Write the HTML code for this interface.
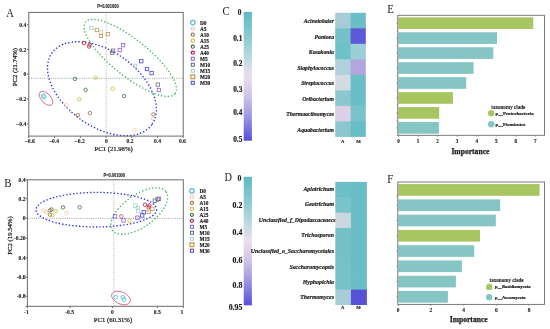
<!DOCTYPE html><html><head><meta charset="utf-8"><style>html,body{margin:0;padding:0;background:#fff;overflow:hidden}svg{display:block;will-change:transform}</style></head><body>
<svg width="550" height="329" viewBox="0 0 550 329">
<rect width="550" height="329" fill="#fff"/>
<text transform="translate(6.20 17.40) scale(0.9 1)" font-family='"Liberation Serif", serif' font-size="11.8" font-weight="normal" font-style="normal" text-anchor="start" fill="#1a1a1a" >A</text>
<text transform="translate(107.90 7.86) scale(0.86 1)" font-family='"Liberation Sans", sans-serif' font-size="4.6" font-weight="bold" font-style="normal" text-anchor="middle" fill="#1a1a1a" stroke="#1a1a1a" stroke-width="0.12" >P=0.001000</text>
<line x1="28.80" y1="78.30" x2="183.20" y2="78.30" stroke="#8a8a8a" stroke-width="0.8" stroke-dasharray="1 1.2"/>
<line x1="106.20" y1="12.40" x2="106.20" y2="136.10" stroke="#a0a0a0" stroke-width="0.8" stroke-dasharray="1 1.2"/>
<ellipse cx="101.96" cy="88.71" rx="61.47" ry="37.37" transform="rotate(35.76 101.96 88.71)" fill="none" stroke="#2b2bea" stroke-width="1.35" stroke-dasharray="1.35 2.05"/>
<ellipse cx="130.29" cy="57.9" rx="57.28" ry="18.25" transform="rotate(38.65 130.29 57.9)" fill="none" stroke="#3cb95a" stroke-width="1.35" stroke-dasharray="1.35 2.05"/>
<ellipse cx="46" cy="98.3" rx="8.6" ry="4.7" transform="rotate(47 46 98.3)" fill="none" stroke="#d3648a" stroke-width="0.85"/>
<rect x="89.70" y="26.30" width="3.40" height="3.40" fill="none" stroke="#a3cfd0" stroke-width="0.78"/>
<rect x="95.20" y="28.30" width="3.40" height="3.40" fill="none" stroke="#c79445" stroke-width="0.78"/>
<rect x="99.30" y="30.80" width="3.40" height="3.40" fill="none" stroke="#a3cfd0" stroke-width="0.78"/>
<rect x="99.30" y="34.20" width="3.40" height="3.40" fill="none" stroke="#c79445" stroke-width="0.78"/>
<rect x="106.10" y="32.50" width="3.40" height="3.40" fill="none" stroke="#c79445" stroke-width="0.78"/>
<circle cx="84.00" cy="43.00" r="1.75" fill="none" stroke="#b3153f" stroke-width="0.80"/>
<circle cx="89.70" cy="44.60" r="1.75" fill="none" stroke="#b3153f" stroke-width="0.80"/>
<circle cx="89.10" cy="46.50" r="1.75" fill="none" stroke="#b3153f" stroke-width="0.80"/>
<rect x="121.40" y="43.50" width="3.40" height="3.40" fill="none" stroke="#8a58e8" stroke-width="0.78"/>
<rect x="118.10" y="48.30" width="3.40" height="3.40" fill="none" stroke="#8a58e8" stroke-width="0.78"/>
<rect x="111.40" y="49.00" width="3.40" height="3.40" fill="none" stroke="#666688" stroke-width="0.78"/>
<rect x="110.50" y="51.10" width="3.40" height="3.40" fill="none" stroke="#666688" stroke-width="0.78"/>
<rect x="139.60" y="59.50" width="3.40" height="3.40" fill="none" stroke="#4646e2" stroke-width="0.78"/>
<rect x="133.30" y="64.20" width="3.40" height="3.40" fill="none" stroke="#a3cfd0" stroke-width="0.78"/>
<rect x="145.30" y="67.30" width="3.40" height="3.40" fill="none" stroke="#4646e2" stroke-width="0.78"/>
<rect x="149.90" y="71.40" width="3.40" height="3.40" fill="none" stroke="#4646e2" stroke-width="0.78"/>
<rect x="156.10" y="82.90" width="3.40" height="3.40" fill="none" stroke="#666688" stroke-width="0.78"/>
<rect x="157.20" y="88.30" width="3.40" height="3.40" fill="none" stroke="#8a58e8" stroke-width="0.78"/>
<circle cx="153.40" cy="114.40" r="1.75" fill="none" stroke="#9a6a42" stroke-width="0.80"/>
<circle cx="152.90" cy="118.50" r="1.75" fill="none" stroke="#f7c6a3" stroke-width="0.80"/>
<circle cx="134.60" cy="130.10" r="1.75" fill="none" stroke="#f7c6a3" stroke-width="0.80"/>
<circle cx="74.90" cy="78.90" r="1.75" fill="none" stroke="#3d6e3d" stroke-width="0.80"/>
<circle cx="95.60" cy="77.70" r="1.75" fill="none" stroke="#c2c232" stroke-width="0.80"/>
<circle cx="85.60" cy="89.80" r="1.75" fill="none" stroke="#3d6e3d" stroke-width="0.80"/>
<circle cx="79.20" cy="99.20" r="1.75" fill="none" stroke="#c2c232" stroke-width="0.80"/>
<circle cx="66.40" cy="105.00" r="1.75" fill="none" stroke="#f7c6a3" stroke-width="0.80"/>
<circle cx="77.90" cy="115.20" r="1.75" fill="none" stroke="#9a6a42" stroke-width="0.80"/>
<circle cx="89.90" cy="113.10" r="1.75" fill="none" stroke="#9a6a42" stroke-width="0.80"/>
<circle cx="43.40" cy="95.80" r="2.00" fill="none" stroke="#4fbfd9" stroke-width="0.80"/>
<circle cx="44.00" cy="96.90" r="2.00" fill="none" stroke="#4fbfd9" stroke-width="0.80"/>
<circle cx="112.70" cy="88.70" r="1.75" fill="none" stroke="#c2c232" stroke-width="0.80"/>
<circle cx="124.20" cy="96.10" r="1.75" fill="none" stroke="#3d6e3d" stroke-width="0.80"/>
<rect x="28.8" y="12.4" width="154.39999999999998" height="123.69999999999999" fill="none" stroke="#6b6b6b" stroke-width="1"/>
<line x1="27.00" y1="24.70" x2="28.80" y2="24.70" stroke="#6b6b6b" stroke-width="1" />
<text x="26.20" y="26.85" font-family='"Liberation Serif", serif' font-size="5.6" font-weight="bold" font-style="normal" text-anchor="end" fill="#1a1a1a" stroke="#1a1a1a" stroke-width="0.12" >0.4</text>
<line x1="27.00" y1="49.50" x2="28.80" y2="49.50" stroke="#6b6b6b" stroke-width="1" />
<text x="26.20" y="51.65" font-family='"Liberation Serif", serif' font-size="5.6" font-weight="bold" font-style="normal" text-anchor="end" fill="#1a1a1a" stroke="#1a1a1a" stroke-width="0.12" >0.2</text>
<line x1="27.00" y1="74.20" x2="28.80" y2="74.20" stroke="#6b6b6b" stroke-width="1" />
<text x="26.20" y="76.35" font-family='"Liberation Serif", serif' font-size="5.6" font-weight="bold" font-style="normal" text-anchor="end" fill="#1a1a1a" stroke="#1a1a1a" stroke-width="0.12" >0</text>
<line x1="27.00" y1="99.00" x2="28.80" y2="99.00" stroke="#6b6b6b" stroke-width="1" />
<text x="26.20" y="101.15" font-family='"Liberation Serif", serif' font-size="5.6" font-weight="bold" font-style="normal" text-anchor="end" fill="#1a1a1a" stroke="#1a1a1a" stroke-width="0.12" >−0.2</text>
<line x1="27.00" y1="123.80" x2="28.80" y2="123.80" stroke="#6b6b6b" stroke-width="1" />
<text x="26.20" y="125.95" font-family='"Liberation Serif", serif' font-size="5.6" font-weight="bold" font-style="normal" text-anchor="end" fill="#1a1a1a" stroke="#1a1a1a" stroke-width="0.12" >−0.4</text>
<line x1="28.80" y1="136.10" x2="28.80" y2="137.90" stroke="#6b6b6b" stroke-width="1" />
<text x="29.60" y="142.95" font-family='"Liberation Serif", serif' font-size="5.6" font-weight="bold" font-style="normal" text-anchor="middle" fill="#1a1a1a" stroke="#1a1a1a" stroke-width="0.1" >−0.6</text>
<line x1="54.50" y1="136.10" x2="54.50" y2="137.90" stroke="#6b6b6b" stroke-width="1" />
<text x="54.00" y="142.95" font-family='"Liberation Serif", serif' font-size="5.6" font-weight="bold" font-style="normal" text-anchor="middle" fill="#1a1a1a" stroke="#1a1a1a" stroke-width="0.1" >−0.4</text>
<line x1="80.30" y1="136.10" x2="80.30" y2="137.90" stroke="#6b6b6b" stroke-width="1" />
<text x="79.60" y="142.95" font-family='"Liberation Serif", serif' font-size="5.6" font-weight="bold" font-style="normal" text-anchor="middle" fill="#1a1a1a" stroke="#1a1a1a" stroke-width="0.1" >−0.2</text>
<line x1="106.00" y1="136.10" x2="106.00" y2="137.90" stroke="#6b6b6b" stroke-width="1" />
<text x="106.30" y="142.95" font-family='"Liberation Serif", serif' font-size="5.6" font-weight="bold" font-style="normal" text-anchor="middle" fill="#1a1a1a" stroke="#1a1a1a" stroke-width="0.1" >0</text>
<line x1="131.70" y1="136.10" x2="131.70" y2="137.90" stroke="#6b6b6b" stroke-width="1" />
<text x="130.00" y="142.95" font-family='"Liberation Serif", serif' font-size="5.6" font-weight="bold" font-style="normal" text-anchor="middle" fill="#1a1a1a" stroke="#1a1a1a" stroke-width="0.1" >0.2</text>
<line x1="157.50" y1="136.10" x2="157.50" y2="137.90" stroke="#6b6b6b" stroke-width="1" />
<text x="157.50" y="142.95" font-family='"Liberation Serif", serif' font-size="5.6" font-weight="bold" font-style="normal" text-anchor="middle" fill="#1a1a1a" stroke="#1a1a1a" stroke-width="0.1" >0.4</text>
<line x1="183.20" y1="136.10" x2="183.20" y2="137.90" stroke="#6b6b6b" stroke-width="1" />
<text x="182.40" y="142.95" font-family='"Liberation Serif", serif' font-size="5.6" font-weight="bold" font-style="normal" text-anchor="middle" fill="#1a1a1a" stroke="#1a1a1a" stroke-width="0.1" >0.6</text>
<text x="113.60" y="150.81" font-family='"Liberation Serif", serif' font-size="6.7" font-weight="normal" font-style="normal" text-anchor="middle" fill="#1a1a1a" stroke="#1a1a1a" stroke-width="0.22" >PC1 (21.98%)</text>
<g transform="translate(15.2 67.1) rotate(-90)">
<text x="0.00" y="2.21" font-family='"Liberation Serif", serif' font-size="6.7" font-weight="normal" font-style="normal" text-anchor="middle" fill="#1a1a1a" stroke="#1a1a1a" stroke-width="0.22" >PC2 (21.74%)</text>
</g>
<circle cx="192.80" cy="22.60" r="2.20" fill="none" stroke="#4fbfd9" stroke-width="1.20"/>
<text x="199.90" y="25.05" font-family='"Liberation Serif", serif' font-size="5.3" font-weight="bold" font-style="normal" text-anchor="start" fill="#1a1a1a" stroke="#1a1a1a" stroke-width="0.15" >D0</text>
<circle cx="192.80" cy="28.62" r="1.60" fill="none" stroke="#f7c6a3" stroke-width="1.10"/>
<text x="199.90" y="31.07" font-family='"Liberation Serif", serif' font-size="5.3" font-weight="bold" font-style="normal" text-anchor="start" fill="#1a1a1a" stroke="#1a1a1a" stroke-width="0.15" >A5</text>
<circle cx="192.80" cy="34.64" r="1.60" fill="none" stroke="#9a6a42" stroke-width="1.10"/>
<text x="199.90" y="37.09" font-family='"Liberation Serif", serif' font-size="5.3" font-weight="bold" font-style="normal" text-anchor="start" fill="#1a1a1a" stroke="#1a1a1a" stroke-width="0.15" >A10</text>
<circle cx="192.80" cy="40.66" r="1.60" fill="none" stroke="#c2c232" stroke-width="1.10"/>
<text x="199.90" y="43.11" font-family='"Liberation Serif", serif' font-size="5.3" font-weight="bold" font-style="normal" text-anchor="start" fill="#1a1a1a" stroke="#1a1a1a" stroke-width="0.15" >A15</text>
<circle cx="192.80" cy="46.68" r="1.60" fill="none" stroke="#3d6e3d" stroke-width="1.10"/>
<text x="199.90" y="49.13" font-family='"Liberation Serif", serif' font-size="5.3" font-weight="bold" font-style="normal" text-anchor="start" fill="#1a1a1a" stroke="#1a1a1a" stroke-width="0.15" >A25</text>
<circle cx="192.80" cy="52.70" r="1.60" fill="none" stroke="#b3153f" stroke-width="1.10"/>
<text x="199.90" y="55.15" font-family='"Liberation Serif", serif' font-size="5.3" font-weight="bold" font-style="normal" text-anchor="start" fill="#1a1a1a" stroke="#1a1a1a" stroke-width="0.15" >A40</text>
<rect x="191.30" y="57.22" width="3.00" height="3.00" fill="none" stroke="#8a58e8" stroke-width="1.00"/>
<text x="199.90" y="61.17" font-family='"Liberation Serif", serif' font-size="5.3" font-weight="bold" font-style="normal" text-anchor="start" fill="#1a1a1a" stroke="#1a1a1a" stroke-width="0.15" >M5</text>
<rect x="191.30" y="63.24" width="3.00" height="3.00" fill="none" stroke="#666688" stroke-width="1.00"/>
<text x="199.90" y="67.19" font-family='"Liberation Serif", serif' font-size="5.3" font-weight="bold" font-style="normal" text-anchor="start" fill="#1a1a1a" stroke="#1a1a1a" stroke-width="0.15" >M10</text>
<rect x="191.30" y="69.26" width="3.00" height="3.00" fill="none" stroke="#a3cfd0" stroke-width="1.00"/>
<text x="199.90" y="73.21" font-family='"Liberation Serif", serif' font-size="5.3" font-weight="bold" font-style="normal" text-anchor="start" fill="#1a1a1a" stroke="#1a1a1a" stroke-width="0.15" >M15</text>
<rect x="190.90" y="74.88" width="3.80" height="3.80" fill="none" stroke="#c79445" stroke-width="1.20"/>
<text x="199.90" y="79.23" font-family='"Liberation Serif", serif' font-size="5.3" font-weight="bold" font-style="normal" text-anchor="start" fill="#1a1a1a" stroke="#1a1a1a" stroke-width="0.15" >M20</text>
<rect x="191.30" y="81.30" width="3.00" height="3.00" fill="none" stroke="#4646e2" stroke-width="1.00"/>
<text x="199.90" y="85.25" font-family='"Liberation Serif", serif' font-size="5.3" font-weight="bold" font-style="normal" text-anchor="start" fill="#1a1a1a" stroke="#1a1a1a" stroke-width="0.15" >M30</text>
<text transform="translate(4.30 186.90) scale(0.92 1)" font-family='"Liberation Serif", serif' font-size="11.8" font-weight="normal" font-style="normal" text-anchor="start" fill="#1a1a1a" >B</text>
<text transform="translate(114.30 176.76) scale(0.86 1)" font-family='"Liberation Sans", sans-serif' font-size="4.6" font-weight="bold" font-style="normal" text-anchor="middle" fill="#1a1a1a" stroke="#1a1a1a" stroke-width="0.12" >P=0.001000</text>
<line x1="27.40" y1="218.40" x2="183.30" y2="218.40" stroke="#8a8a8a" stroke-width="0.8" stroke-dasharray="1 1.2"/>
<line x1="113.80" y1="179.80" x2="113.80" y2="306.30" stroke="#a0a0a0" stroke-width="0.8" stroke-dasharray="1 1.2"/>
<ellipse cx="96.33" cy="209.69" rx="60.26" ry="17.28" transform="rotate(-0.17 96.33 209.69)" fill="none" stroke="#2b2bea" stroke-width="1.35" stroke-dasharray="1.35 2.05"/>
<ellipse cx="139.28" cy="211.02" rx="33.01" ry="15.99" transform="rotate(-35.68 139.28 211.02)" fill="none" stroke="#3cb95a" stroke-width="1.35" stroke-dasharray="1.35 2.05"/>
<ellipse cx="121" cy="298" rx="10" ry="6" transform="rotate(24 121 298)" fill="none" stroke="#d3648a" stroke-width="0.85"/>
<circle cx="43.20" cy="210.40" r="1.75" fill="none" stroke="#f7c6a3" stroke-width="0.80"/>
<circle cx="46.00" cy="211.80" r="1.75" fill="none" stroke="#f7c6a3" stroke-width="0.80"/>
<circle cx="49.90" cy="210.40" r="1.75" fill="none" stroke="#9a6a42" stroke-width="0.80"/>
<circle cx="49.90" cy="214.60" r="1.75" fill="none" stroke="#9a6a42" stroke-width="0.80"/>
<circle cx="51.50" cy="209.50" r="1.75" fill="none" stroke="#3d6e3d" stroke-width="0.80"/>
<circle cx="55.70" cy="211.00" r="1.75" fill="none" stroke="#c2c232" stroke-width="0.80"/>
<circle cx="52.30" cy="215.20" r="1.75" fill="none" stroke="#c2c232" stroke-width="0.80"/>
<circle cx="63.00" cy="207.30" r="1.75" fill="none" stroke="#3d6e3d" stroke-width="0.80"/>
<circle cx="79.60" cy="207.30" r="1.75" fill="none" stroke="#3d6e3d" stroke-width="0.80"/>
<circle cx="66.60" cy="212.80" r="1.75" fill="none" stroke="#f7c6a3" stroke-width="0.80"/>
<rect x="133.60" y="204.00" width="3.40" height="3.40" fill="none" stroke="#a3cfd0" stroke-width="0.78"/>
<rect x="136.10" y="206.30" width="3.40" height="3.40" fill="none" stroke="#a3cfd0" stroke-width="0.78"/>
<rect x="136.40" y="209.10" width="3.40" height="3.40" fill="none" stroke="#a3cfd0" stroke-width="0.78"/>
<circle cx="145.00" cy="204.70" r="1.75" fill="none" stroke="#b3153f" stroke-width="0.80"/>
<circle cx="149.30" cy="205.50" r="1.75" fill="none" stroke="#b3153f" stroke-width="0.80"/>
<circle cx="148.70" cy="207.30" r="1.75" fill="none" stroke="#b3153f" stroke-width="0.80"/>
<rect x="150.70" y="207.10" width="3.40" height="3.40" fill="none" stroke="#c79445" stroke-width="0.78"/>
<rect x="147.00" y="210.10" width="3.40" height="3.40" fill="none" stroke="#c79445" stroke-width="0.78"/>
<rect x="153.10" y="199.00" width="3.40" height="3.40" fill="none" stroke="#666688" stroke-width="0.78"/>
<rect x="155.90" y="197.70" width="3.40" height="3.40" fill="none" stroke="#666688" stroke-width="0.78"/>
<rect x="157.30" y="197.10" width="3.40" height="3.40" fill="none" stroke="#666688" stroke-width="0.78"/>
<rect x="142.10" y="210.50" width="3.40" height="3.40" fill="none" stroke="#4646e2" stroke-width="0.78"/>
<rect x="140.50" y="213.70" width="3.40" height="3.40" fill="none" stroke="#4646e2" stroke-width="0.78"/>
<rect x="135.80" y="216.00" width="3.40" height="3.40" fill="none" stroke="#8a58e8" stroke-width="0.78"/>
<rect x="113.30" y="214.70" width="3.40" height="3.40" fill="none" stroke="#8a58e8" stroke-width="0.78"/>
<rect x="121.80" y="218.70" width="3.40" height="3.40" fill="none" stroke="#8a58e8" stroke-width="0.78"/>
<circle cx="121.30" cy="216.30" r="1.75" fill="none" stroke="#9a6a42" stroke-width="0.80"/>
<circle cx="129.50" cy="220.80" r="1.75" fill="none" stroke="#c2c232" stroke-width="0.80"/>
<circle cx="115.90" cy="297.10" r="2.00" fill="none" stroke="#4fbfd9" stroke-width="0.80"/>
<circle cx="122.80" cy="297.30" r="2.00" fill="none" stroke="#4fbfd9" stroke-width="0.80"/>
<circle cx="124.10" cy="299.60" r="2.00" fill="none" stroke="#4fbfd9" stroke-width="0.80"/>
<rect x="27.4" y="179.8" width="155.9" height="126.5" fill="none" stroke="#6b6b6b" stroke-width="1"/>
<line x1="25.60" y1="179.80" x2="27.40" y2="179.80" stroke="#6b6b6b" stroke-width="1" />
<text x="25.60" y="181.95" font-family='"Liberation Serif", serif' font-size="5.6" font-weight="bold" font-style="normal" text-anchor="end" fill="#1a1a1a" stroke="#1a1a1a" stroke-width="0.12" >0.4</text>
<line x1="25.60" y1="198.80" x2="27.40" y2="198.80" stroke="#6b6b6b" stroke-width="1" />
<text x="25.60" y="200.95" font-family='"Liberation Serif", serif' font-size="5.6" font-weight="bold" font-style="normal" text-anchor="end" fill="#1a1a1a" stroke="#1a1a1a" stroke-width="0.12" >0.2</text>
<line x1="25.60" y1="218.10" x2="27.40" y2="218.10" stroke="#6b6b6b" stroke-width="1" />
<text x="25.60" y="220.25" font-family='"Liberation Serif", serif' font-size="5.6" font-weight="bold" font-style="normal" text-anchor="end" fill="#1a1a1a" stroke="#1a1a1a" stroke-width="0.12" >0</text>
<line x1="25.60" y1="238.30" x2="27.40" y2="238.30" stroke="#6b6b6b" stroke-width="1" />
<text x="25.60" y="240.45" font-family='"Liberation Serif", serif' font-size="5.6" font-weight="bold" font-style="normal" text-anchor="end" fill="#1a1a1a" stroke="#1a1a1a" stroke-width="0.12" >-0.20</text>
<line x1="25.60" y1="257.90" x2="27.40" y2="257.90" stroke="#6b6b6b" stroke-width="1" />
<text x="25.60" y="260.05" font-family='"Liberation Serif", serif' font-size="5.6" font-weight="bold" font-style="normal" text-anchor="end" fill="#1a1a1a" stroke="#1a1a1a" stroke-width="0.12" >0.4</text>
<line x1="25.60" y1="277.10" x2="27.40" y2="277.10" stroke="#6b6b6b" stroke-width="1" />
<text x="25.60" y="279.25" font-family='"Liberation Serif", serif' font-size="5.6" font-weight="bold" font-style="normal" text-anchor="end" fill="#1a1a1a" stroke="#1a1a1a" stroke-width="0.12" >-0.6</text>
<line x1="25.60" y1="296.20" x2="27.40" y2="296.20" stroke="#6b6b6b" stroke-width="1" />
<text x="25.60" y="298.35" font-family='"Liberation Serif", serif' font-size="5.6" font-weight="bold" font-style="normal" text-anchor="end" fill="#1a1a1a" stroke="#1a1a1a" stroke-width="0.12" >-0.8</text>
<line x1="27.40" y1="306.30" x2="27.40" y2="308.10" stroke="#6b6b6b" stroke-width="1" />
<text x="26.40" y="313.55" font-family='"Liberation Serif", serif' font-size="5.6" font-weight="bold" font-style="normal" text-anchor="middle" fill="#1a1a1a" stroke="#1a1a1a" stroke-width="0.1" >-1</text>
<line x1="70.00" y1="306.30" x2="70.00" y2="308.10" stroke="#6b6b6b" stroke-width="1" />
<text x="69.60" y="313.55" font-family='"Liberation Serif", serif' font-size="5.6" font-weight="bold" font-style="normal" text-anchor="middle" fill="#1a1a1a" stroke="#1a1a1a" stroke-width="0.1" >-0.5</text>
<line x1="112.70" y1="306.30" x2="112.70" y2="308.10" stroke="#6b6b6b" stroke-width="1" />
<text x="112.40" y="313.55" font-family='"Liberation Serif", serif' font-size="5.6" font-weight="bold" font-style="normal" text-anchor="middle" fill="#1a1a1a" stroke="#1a1a1a" stroke-width="0.1" >0</text>
<line x1="157.30" y1="306.30" x2="157.30" y2="308.10" stroke="#6b6b6b" stroke-width="1" />
<text x="157.30" y="313.55" font-family='"Liberation Serif", serif' font-size="5.6" font-weight="bold" font-style="normal" text-anchor="middle" fill="#1a1a1a" stroke="#1a1a1a" stroke-width="0.1" >0.5</text>
<line x1="183.30" y1="306.30" x2="183.30" y2="308.10" stroke="#6b6b6b" stroke-width="1" />
<text x="181.80" y="313.55" font-family='"Liberation Serif", serif' font-size="5.6" font-weight="bold" font-style="normal" text-anchor="middle" fill="#1a1a1a" stroke="#1a1a1a" stroke-width="0.1" >1</text>
<line x1="25.40" y1="306.30" x2="27.40" y2="306.30" stroke="#6b6b6b" stroke-width="1" />
<text x="113.00" y="321.71" font-family='"Liberation Serif", serif' font-size="6.7" font-weight="normal" font-style="normal" text-anchor="middle" fill="#1a1a1a" stroke="#1a1a1a" stroke-width="0.22" >PC1 (60.31%)</text>
<g transform="translate(10.2 235.5) rotate(-90)">
<text x="0.00" y="2.21" font-family='"Liberation Serif", serif' font-size="6.7" font-weight="normal" font-style="normal" text-anchor="middle" fill="#1a1a1a" stroke="#1a1a1a" stroke-width="0.22" >PC2 (19.54%)</text>
</g>
<circle cx="191.90" cy="190.90" r="2.20" fill="none" stroke="#4fbfd9" stroke-width="1.20"/>
<text x="199.40" y="193.35" font-family='"Liberation Serif", serif' font-size="5.3" font-weight="bold" font-style="normal" text-anchor="start" fill="#1a1a1a" stroke="#1a1a1a" stroke-width="0.15" >D0</text>
<circle cx="191.90" cy="196.88" r="1.60" fill="none" stroke="#f7c6a3" stroke-width="1.10"/>
<text x="199.40" y="199.33" font-family='"Liberation Serif", serif' font-size="5.3" font-weight="bold" font-style="normal" text-anchor="start" fill="#1a1a1a" stroke="#1a1a1a" stroke-width="0.15" >A5</text>
<circle cx="191.90" cy="202.86" r="1.60" fill="none" stroke="#9a6a42" stroke-width="1.10"/>
<text x="199.40" y="205.31" font-family='"Liberation Serif", serif' font-size="5.3" font-weight="bold" font-style="normal" text-anchor="start" fill="#1a1a1a" stroke="#1a1a1a" stroke-width="0.15" >A10</text>
<circle cx="191.90" cy="208.84" r="1.60" fill="none" stroke="#c2c232" stroke-width="1.10"/>
<text x="199.40" y="211.29" font-family='"Liberation Serif", serif' font-size="5.3" font-weight="bold" font-style="normal" text-anchor="start" fill="#1a1a1a" stroke="#1a1a1a" stroke-width="0.15" >A15</text>
<circle cx="191.90" cy="214.82" r="1.60" fill="none" stroke="#3d6e3d" stroke-width="1.10"/>
<text x="199.40" y="217.27" font-family='"Liberation Serif", serif' font-size="5.3" font-weight="bold" font-style="normal" text-anchor="start" fill="#1a1a1a" stroke="#1a1a1a" stroke-width="0.15" >A25</text>
<circle cx="191.90" cy="220.80" r="1.60" fill="none" stroke="#b3153f" stroke-width="1.10"/>
<text x="199.40" y="223.25" font-family='"Liberation Serif", serif' font-size="5.3" font-weight="bold" font-style="normal" text-anchor="start" fill="#1a1a1a" stroke="#1a1a1a" stroke-width="0.15" >A40</text>
<rect x="190.40" y="225.28" width="3.00" height="3.00" fill="none" stroke="#8a58e8" stroke-width="1.00"/>
<text x="199.40" y="229.23" font-family='"Liberation Serif", serif' font-size="5.3" font-weight="bold" font-style="normal" text-anchor="start" fill="#1a1a1a" stroke="#1a1a1a" stroke-width="0.15" >M5</text>
<rect x="190.40" y="231.26" width="3.00" height="3.00" fill="none" stroke="#666688" stroke-width="1.00"/>
<text x="199.40" y="235.21" font-family='"Liberation Serif", serif' font-size="5.3" font-weight="bold" font-style="normal" text-anchor="start" fill="#1a1a1a" stroke="#1a1a1a" stroke-width="0.15" >M10</text>
<rect x="190.40" y="237.24" width="3.00" height="3.00" fill="none" stroke="#a3cfd0" stroke-width="1.00"/>
<text x="199.40" y="241.19" font-family='"Liberation Serif", serif' font-size="5.3" font-weight="bold" font-style="normal" text-anchor="start" fill="#1a1a1a" stroke="#1a1a1a" stroke-width="0.15" >M15</text>
<rect x="190.00" y="242.82" width="3.80" height="3.80" fill="none" stroke="#c79445" stroke-width="1.20"/>
<text x="199.40" y="247.17" font-family='"Liberation Serif", serif' font-size="5.3" font-weight="bold" font-style="normal" text-anchor="start" fill="#1a1a1a" stroke="#1a1a1a" stroke-width="0.15" >M20</text>
<rect x="190.40" y="249.20" width="3.00" height="3.00" fill="none" stroke="#4646e2" stroke-width="1.00"/>
<text x="199.40" y="253.15" font-family='"Liberation Serif", serif' font-size="5.3" font-weight="bold" font-style="normal" text-anchor="start" fill="#1a1a1a" stroke="#1a1a1a" stroke-width="0.15" >M30</text>
<text transform="translate(222.50 14.70) scale(0.9 1)" font-family='"Liberation Serif", serif' font-size="12.0" font-weight="normal" font-style="normal" text-anchor="start" fill="#1a1a1a" >C</text>
<defs><linearGradient id="gc" x1="0" y1="0" x2="0" y2="1"><stop offset="0" stop-color="#5fbac4"/><stop offset="0.2" stop-color="#8ec9d2"/><stop offset="0.36" stop-color="#bcdae1"/><stop offset="0.5" stop-color="#ebdfea"/><stop offset="0.65" stop-color="#cfc5ea"/><stop offset="0.8" stop-color="#a29be2"/><stop offset="1" stop-color="#5550d8"/></linearGradient></defs>
<rect x="243.70" y="11.90" width="8.20" height="128.80" fill="url(#gc)" />
<text x="241.40" y="15.41" font-family='"Liberation Serif", serif' font-size="7.3" font-weight="bold" font-style="normal" text-anchor="end" fill="#1a1a1a" stroke="#1a1a1a" stroke-width="0.1" >0</text>
<text x="242.30" y="41.06" font-family='"Liberation Serif", serif' font-size="7.3" font-weight="bold" font-style="normal" text-anchor="end" fill="#1a1a1a" stroke="#1a1a1a" stroke-width="0.18" >0.1</text>
<text x="242.30" y="65.91" font-family='"Liberation Serif", serif' font-size="7.3" font-weight="bold" font-style="normal" text-anchor="end" fill="#1a1a1a" stroke="#1a1a1a" stroke-width="0.18" >0.2</text>
<text x="242.30" y="91.61" font-family='"Liberation Serif", serif' font-size="7.3" font-weight="bold" font-style="normal" text-anchor="end" fill="#1a1a1a" stroke="#1a1a1a" stroke-width="0.18" >0.3</text>
<text x="242.30" y="115.01" font-family='"Liberation Serif", serif' font-size="7.3" font-weight="bold" font-style="normal" text-anchor="end" fill="#1a1a1a" stroke="#1a1a1a" stroke-width="0.18" >0.4</text>
<text x="242.30" y="141.61" font-family='"Liberation Serif", serif' font-size="7.3" font-weight="bold" font-style="normal" text-anchor="end" fill="#1a1a1a" stroke="#1a1a1a" stroke-width="0.18" >0.5</text>
<text transform="translate(334.00 22.99) scale(0.935 1)" font-family='"Liberation Serif", serif' font-size="6.15" font-weight="bold" font-style="italic" text-anchor="end" fill="#1a1a1a" stroke="#1a1a1a" stroke-width="0.2" >Acinetobater</text>
<text transform="translate(334.00 38.50) scale(0.935 1)" font-family='"Liberation Serif", serif' font-size="6.15" font-weight="bold" font-style="italic" text-anchor="end" fill="#1a1a1a" stroke="#1a1a1a" stroke-width="0.2" >Pantoea</text>
<text transform="translate(334.00 54.01) scale(0.935 1)" font-family='"Liberation Serif", serif' font-size="6.15" font-weight="bold" font-style="italic" text-anchor="end" fill="#1a1a1a" stroke="#1a1a1a" stroke-width="0.2" >Kosakonia</text>
<text transform="translate(334.00 69.52) scale(0.935 1)" font-family='"Liberation Serif", serif' font-size="6.15" font-weight="bold" font-style="italic" text-anchor="end" fill="#1a1a1a" stroke="#1a1a1a" stroke-width="0.2" >Staphylococcus</text>
<text transform="translate(334.00 85.04) scale(0.935 1)" font-family='"Liberation Serif", serif' font-size="6.15" font-weight="bold" font-style="italic" text-anchor="end" fill="#1a1a1a" stroke="#1a1a1a" stroke-width="0.2" >Streptococcus</text>
<text transform="translate(334.00 100.55) scale(0.935 1)" font-family='"Liberation Serif", serif' font-size="6.15" font-weight="bold" font-style="italic" text-anchor="end" fill="#1a1a1a" stroke="#1a1a1a" stroke-width="0.2" >Oribacterium</text>
<text transform="translate(334.00 116.06) scale(0.935 1)" font-family='"Liberation Serif", serif' font-size="6.15" font-weight="bold" font-style="italic" text-anchor="end" fill="#1a1a1a" stroke="#1a1a1a" stroke-width="0.2" >Thermoactinomyces</text>
<text transform="translate(334.00 131.57) scale(0.935 1)" font-family='"Liberation Serif", serif' font-size="6.15" font-weight="bold" font-style="italic" text-anchor="end" fill="#1a1a1a" stroke="#1a1a1a" stroke-width="0.2" >Aquabacterium</text>
<rect x="335.20" y="12.80" width="15.80" height="16.11" fill="#a8ccd6" />
<rect x="350.60" y="12.80" width="15.20" height="16.11" fill="#6abec6" />
<rect x="335.20" y="28.31" width="15.80" height="16.11" fill="#74c1c8" />
<rect x="350.60" y="28.31" width="15.20" height="16.11" fill="#5c5ad8" />
<rect x="335.20" y="43.83" width="15.80" height="16.11" fill="#70c0c7" />
<rect x="350.60" y="43.83" width="15.20" height="16.11" fill="#9ccfd5" />
<rect x="335.20" y="59.34" width="15.80" height="16.11" fill="#b0d2da" />
<rect x="350.60" y="59.34" width="15.20" height="16.11" fill="#b2a6e0" />
<rect x="335.20" y="74.85" width="15.80" height="16.11" fill="#d3dbe3" />
<rect x="350.60" y="74.85" width="15.20" height="16.11" fill="#6abec6" />
<rect x="335.20" y="90.36" width="15.80" height="16.11" fill="#8bc7ce" />
<rect x="350.60" y="90.36" width="15.20" height="16.11" fill="#6abec6" />
<rect x="335.20" y="105.88" width="15.80" height="16.11" fill="#dcd0e6" />
<rect x="350.60" y="105.88" width="15.20" height="16.11" fill="#78c2c9" />
<rect x="335.20" y="121.39" width="15.80" height="15.51" fill="#8ac7ce" />
<rect x="350.60" y="121.39" width="15.20" height="15.51" fill="#68bec6" />
<text x="342.70" y="142.58" font-family='"Liberation Serif", serif' font-size="4.8" font-weight="bold" font-style="normal" text-anchor="middle" fill="#1a1a1a" stroke="#1a1a1a" stroke-width="0.15" >A</text>
<text x="358.50" y="142.58" font-family='"Liberation Serif", serif' font-size="4.8" font-weight="bold" font-style="normal" text-anchor="middle" fill="#1a1a1a" stroke="#1a1a1a" stroke-width="0.15" >M</text>
<text transform="translate(224.60 180.50) scale(0.88 1)" font-family='"Liberation Serif", serif' font-size="11.8" font-weight="normal" font-style="normal" text-anchor="start" fill="#1a1a1a" >D</text>
<defs><linearGradient id="gd" x1="0" y1="0" x2="0" y2="1"><stop offset="0" stop-color="#5fbac4"/><stop offset="0.2" stop-color="#8ec9d2"/><stop offset="0.36" stop-color="#bcdae1"/><stop offset="0.5" stop-color="#ebdfea"/><stop offset="0.65" stop-color="#cfc5ea"/><stop offset="0.8" stop-color="#a29be2"/><stop offset="1" stop-color="#5550d8"/></linearGradient></defs>
<rect x="243.70" y="176.80" width="8.20" height="128.50" fill="url(#gd)" />
<text x="241.40" y="180.87" font-family='"Liberation Serif", serif' font-size="7.8" font-weight="bold" font-style="normal" text-anchor="end" fill="#1a1a1a" stroke="#1a1a1a" stroke-width="0.1" >0</text>
<text x="242.30" y="208.27" font-family='"Liberation Serif", serif' font-size="7.8" font-weight="bold" font-style="normal" text-anchor="end" fill="#1a1a1a" stroke="#1a1a1a" stroke-width="0.18" >0.2</text>
<text x="242.30" y="234.87" font-family='"Liberation Serif", serif' font-size="7.8" font-weight="bold" font-style="normal" text-anchor="end" fill="#1a1a1a" stroke="#1a1a1a" stroke-width="0.18" >0.4</text>
<text x="242.30" y="262.57" font-family='"Liberation Serif", serif' font-size="7.8" font-weight="bold" font-style="normal" text-anchor="end" fill="#1a1a1a" stroke="#1a1a1a" stroke-width="0.18" >0.6</text>
<text x="242.30" y="288.27" font-family='"Liberation Serif", serif' font-size="7.8" font-weight="bold" font-style="normal" text-anchor="end" fill="#1a1a1a" stroke="#1a1a1a" stroke-width="0.18" >0.8</text>
<text x="242.30" y="309.77" font-family='"Liberation Serif", serif' font-size="7.8" font-weight="bold" font-style="normal" text-anchor="end" fill="#1a1a1a" stroke="#1a1a1a" stroke-width="0.18" >0.95</text>
<text transform="translate(334.00 190.97) scale(0.93 1)" font-family='"Liberation Serif", serif' font-size="6.3" font-weight="bold" font-style="italic" text-anchor="end" fill="#1a1a1a" stroke="#1a1a1a" stroke-width="0.2" >Apiotrichum</text>
<text transform="translate(334.00 206.36) scale(0.93 1)" font-family='"Liberation Serif", serif' font-size="6.3" font-weight="bold" font-style="italic" text-anchor="end" fill="#1a1a1a" stroke="#1a1a1a" stroke-width="0.2" >Geotrichum</text>
<text transform="translate(258.70 221.75) scale(0.93 1)" font-family='"Liberation Serif", serif' font-size="6.3" font-weight="bold" font-style="italic" text-anchor="start" fill="#1a1a1a" stroke="#1a1a1a" stroke-width="0.2" >Unclassfied_f_Dipodascaceaece</text>
<text transform="translate(334.00 237.14) scale(0.93 1)" font-family='"Liberation Serif", serif' font-size="6.3" font-weight="bold" font-style="italic" text-anchor="end" fill="#1a1a1a" stroke="#1a1a1a" stroke-width="0.2" >Trichosporon</text>
<text transform="translate(334.00 252.52) scale(0.93 1)" font-family='"Liberation Serif", serif' font-size="6.3" font-weight="bold" font-style="italic" text-anchor="end" fill="#1a1a1a" stroke="#1a1a1a" stroke-width="0.2" >Unclassfied_o_Saccharomycetales</text>
<text transform="translate(334.00 268.61) scale(0.93 1)" font-family='"Liberation Serif", serif' font-size="6.3" font-weight="bold" font-style="italic" text-anchor="end" fill="#1a1a1a" stroke="#1a1a1a" stroke-width="0.2" >Saccharomycopsis</text>
<text transform="translate(334.00 284.00) scale(0.93 1)" font-family='"Liberation Serif", serif' font-size="6.3" font-weight="bold" font-style="italic" text-anchor="end" fill="#1a1a1a" stroke="#1a1a1a" stroke-width="0.2" >Hyphopichia</text>
<text transform="translate(334.00 299.39) scale(0.93 1)" font-family='"Liberation Serif", serif' font-size="6.3" font-weight="bold" font-style="italic" text-anchor="end" fill="#1a1a1a" stroke="#1a1a1a" stroke-width="0.2" >Thermomyces</text>
<rect x="335.30" y="181.90" width="16.20" height="15.99" fill="#6dbfc7" />
<rect x="350.90" y="181.90" width="16.00" height="15.99" fill="#6abec6" />
<rect x="335.30" y="197.29" width="16.20" height="15.99" fill="#79c3ca" />
<rect x="350.90" y="197.29" width="16.00" height="15.99" fill="#6abec6" />
<rect x="335.30" y="212.68" width="16.20" height="15.99" fill="#ccd6e0" />
<rect x="350.90" y="212.68" width="16.00" height="15.99" fill="#6abec6" />
<rect x="335.30" y="228.06" width="16.20" height="15.99" fill="#74c1c8" />
<rect x="350.90" y="228.06" width="16.00" height="15.99" fill="#6abec6" />
<rect x="335.30" y="243.45" width="16.20" height="15.99" fill="#75c1c8" />
<rect x="350.90" y="243.45" width="16.00" height="15.99" fill="#6abec6" />
<rect x="335.30" y="258.84" width="16.20" height="15.99" fill="#77c2c9" />
<rect x="350.90" y="258.84" width="16.00" height="15.99" fill="#6abec6" />
<rect x="335.30" y="274.23" width="16.20" height="15.99" fill="#76c2c8" />
<rect x="350.90" y="274.23" width="16.00" height="15.99" fill="#6abec6" />
<rect x="335.30" y="289.61" width="16.20" height="15.39" fill="#a7cdd6" />
<rect x="350.90" y="289.61" width="16.00" height="15.39" fill="#5752d8" />
<text x="342.80" y="308.98" font-family='"Liberation Serif", serif' font-size="4.8" font-weight="bold" font-style="normal" text-anchor="middle" fill="#1a1a1a" stroke="#1a1a1a" stroke-width="0.15" >A</text>
<text x="358.60" y="308.98" font-family='"Liberation Serif", serif' font-size="4.8" font-weight="bold" font-style="normal" text-anchor="middle" fill="#1a1a1a" stroke="#1a1a1a" stroke-width="0.15" >M</text>
<text transform="translate(387.30 12.90) scale(0.92 1)" font-family='"Liberation Serif", serif' font-size="11.8" font-weight="normal" font-style="normal" text-anchor="start" fill="#1a1a1a" >E</text>
<rect x="398.30" y="17.30" width="134.90" height="11.70" fill="#a8c660" />
<rect x="398.30" y="32.26" width="98.70" height="11.70" fill="#85c5c3" />
<rect x="398.30" y="47.22" width="95.00" height="11.70" fill="#85c5c3" />
<rect x="398.30" y="62.18" width="75.30" height="11.70" fill="#85c5c3" />
<rect x="398.30" y="77.14" width="67.90" height="11.70" fill="#85c5c3" />
<rect x="398.30" y="92.10" width="54.60" height="11.70" fill="#a8c660" />
<rect x="398.30" y="107.06" width="40.90" height="11.70" fill="#a8c660" />
<rect x="398.30" y="122.02" width="40.60" height="11.70" fill="#85c5c3" />
<rect x="397.8" y="15.3" width="146.7" height="120.00000000000001" fill="none" stroke="#6b6b6b" stroke-width="0.9"/>
<line x1="396.20" y1="23.15" x2="397.80" y2="23.15" stroke="#6b6b6b" stroke-width="0.6" />
<line x1="396.60" y1="30.63" x2="397.80" y2="30.63" stroke="#6b6b6b" stroke-width="0.6" />
<line x1="396.20" y1="38.11" x2="397.80" y2="38.11" stroke="#6b6b6b" stroke-width="0.6" />
<line x1="396.60" y1="45.59" x2="397.80" y2="45.59" stroke="#6b6b6b" stroke-width="0.6" />
<line x1="396.20" y1="53.07" x2="397.80" y2="53.07" stroke="#6b6b6b" stroke-width="0.6" />
<line x1="396.60" y1="60.55" x2="397.80" y2="60.55" stroke="#6b6b6b" stroke-width="0.6" />
<line x1="396.20" y1="68.03" x2="397.80" y2="68.03" stroke="#6b6b6b" stroke-width="0.6" />
<line x1="396.60" y1="75.51" x2="397.80" y2="75.51" stroke="#6b6b6b" stroke-width="0.6" />
<line x1="396.20" y1="82.99" x2="397.80" y2="82.99" stroke="#6b6b6b" stroke-width="0.6" />
<line x1="396.60" y1="90.47" x2="397.80" y2="90.47" stroke="#6b6b6b" stroke-width="0.6" />
<line x1="396.20" y1="97.95" x2="397.80" y2="97.95" stroke="#6b6b6b" stroke-width="0.6" />
<line x1="396.60" y1="105.43" x2="397.80" y2="105.43" stroke="#6b6b6b" stroke-width="0.6" />
<line x1="396.20" y1="112.91" x2="397.80" y2="112.91" stroke="#6b6b6b" stroke-width="0.6" />
<line x1="396.60" y1="120.39" x2="397.80" y2="120.39" stroke="#6b6b6b" stroke-width="0.6" />
<line x1="396.20" y1="127.87" x2="397.80" y2="127.87" stroke="#6b6b6b" stroke-width="0.6" />
<line x1="396.60" y1="135.35" x2="397.80" y2="135.35" stroke="#6b6b6b" stroke-width="0.6" />
<line x1="398.50" y1="135.30" x2="398.50" y2="136.80" stroke="#6b6b6b" stroke-width="0.6" />
<text x="398.50" y="142.72" font-family='"Liberation Serif", serif' font-size="5.2" font-weight="bold" font-style="normal" text-anchor="middle" fill="#1a1a1a" stroke="#1a1a1a" stroke-width="0.12" >0</text>
<line x1="418.05" y1="135.30" x2="418.05" y2="136.80" stroke="#6b6b6b" stroke-width="0.6" />
<text x="418.05" y="142.72" font-family='"Liberation Serif", serif' font-size="5.2" font-weight="bold" font-style="normal" text-anchor="middle" fill="#1a1a1a" stroke="#1a1a1a" stroke-width="0.12" >1</text>
<line x1="437.60" y1="135.30" x2="437.60" y2="136.80" stroke="#6b6b6b" stroke-width="0.6" />
<text x="437.60" y="142.72" font-family='"Liberation Serif", serif' font-size="5.2" font-weight="bold" font-style="normal" text-anchor="middle" fill="#1a1a1a" stroke="#1a1a1a" stroke-width="0.12" >2</text>
<line x1="457.15" y1="135.30" x2="457.15" y2="136.80" stroke="#6b6b6b" stroke-width="0.6" />
<text x="457.15" y="142.72" font-family='"Liberation Serif", serif' font-size="5.2" font-weight="bold" font-style="normal" text-anchor="middle" fill="#1a1a1a" stroke="#1a1a1a" stroke-width="0.12" >3</text>
<line x1="476.70" y1="135.30" x2="476.70" y2="136.80" stroke="#6b6b6b" stroke-width="0.6" />
<text x="476.70" y="142.72" font-family='"Liberation Serif", serif' font-size="5.2" font-weight="bold" font-style="normal" text-anchor="middle" fill="#1a1a1a" stroke="#1a1a1a" stroke-width="0.12" >4</text>
<line x1="496.25" y1="135.30" x2="496.25" y2="136.80" stroke="#6b6b6b" stroke-width="0.6" />
<text x="496.25" y="142.72" font-family='"Liberation Serif", serif' font-size="5.2" font-weight="bold" font-style="normal" text-anchor="middle" fill="#1a1a1a" stroke="#1a1a1a" stroke-width="0.12" >5</text>
<line x1="515.80" y1="135.30" x2="515.80" y2="136.80" stroke="#6b6b6b" stroke-width="0.6" />
<text x="515.80" y="142.72" font-family='"Liberation Serif", serif' font-size="5.2" font-weight="bold" font-style="normal" text-anchor="middle" fill="#1a1a1a" stroke="#1a1a1a" stroke-width="0.12" >6</text>
<line x1="535.35" y1="135.30" x2="535.35" y2="136.80" stroke="#6b6b6b" stroke-width="0.6" />
<text x="535.35" y="142.72" font-family='"Liberation Serif", serif' font-size="5.2" font-weight="bold" font-style="normal" text-anchor="middle" fill="#1a1a1a" stroke="#1a1a1a" stroke-width="0.12" >7</text>
<text x="470.40" y="154.31" font-family='"Liberation Serif", serif' font-size="7.6" font-weight="bold" font-style="normal" text-anchor="middle" fill="#1a1a1a" stroke="#1a1a1a" stroke-width="0.25" >Importance</text>
<text x="491.20" y="108.78" font-family='"Liberation Serif", serif' font-size="5.1" font-weight="bold" font-style="normal" text-anchor="start" fill="#1a1a1a" stroke="#1a1a1a" stroke-width="0.08" >taxonomy clade</text>
<circle cx="491.20" cy="113.10" r="3.2" fill="#a8c660"/>
<text x="495.50" y="114.50" font-family='"Liberation Serif", serif' font-size="4.85" font-weight="bold" font-style="normal" text-anchor="start" fill="#1a1a1a" stroke="#1a1a1a" stroke-width="0.2" >p__Proteobacteria</text>
<circle cx="491.20" cy="124.30" r="3.2" fill="#85c5c3"/>
<text x="495.50" y="125.70" font-family='"Liberation Serif", serif' font-size="4.85" font-weight="bold" font-style="normal" text-anchor="start" fill="#1a1a1a" stroke="#1a1a1a" stroke-width="0.2" >p__Firmicutes</text>
<text transform="translate(387.30 182.90) scale(0.92 1)" font-family='"Liberation Serif", serif' font-size="11.8" font-weight="normal" font-style="normal" text-anchor="start" fill="#1a1a1a" >F</text>
<rect x="398.30" y="184.10" width="141.30" height="11.70" fill="#a8c660" />
<rect x="398.30" y="199.37" width="101.90" height="11.70" fill="#85c5c3" />
<rect x="398.30" y="214.64" width="97.50" height="11.70" fill="#85c5c3" />
<rect x="398.30" y="229.91" width="81.70" height="11.70" fill="#a8c660" />
<rect x="398.30" y="245.18" width="75.90" height="11.70" fill="#85c5c3" />
<rect x="398.30" y="260.45" width="63.60" height="11.70" fill="#85c5c3" />
<rect x="398.30" y="275.72" width="57.60" height="11.70" fill="#85c5c3" />
<rect x="398.30" y="290.99" width="49.60" height="11.70" fill="#85c5c3" />
<rect x="397.8" y="182.0" width="146.7" height="122.39999999999998" fill="none" stroke="#6b6b6b" stroke-width="0.9"/>
<line x1="396.20" y1="205.22" x2="397.80" y2="205.22" stroke="#6b6b6b" stroke-width="0.6" />
<line x1="396.20" y1="220.49" x2="397.80" y2="220.49" stroke="#6b6b6b" stroke-width="0.6" />
<line x1="396.20" y1="235.76" x2="397.80" y2="235.76" stroke="#6b6b6b" stroke-width="0.6" />
<line x1="396.20" y1="251.03" x2="397.80" y2="251.03" stroke="#6b6b6b" stroke-width="0.6" />
<line x1="396.20" y1="266.30" x2="397.80" y2="266.30" stroke="#6b6b6b" stroke-width="0.6" />
<line x1="396.20" y1="281.57" x2="397.80" y2="281.57" stroke="#6b6b6b" stroke-width="0.6" />
<line x1="396.20" y1="296.84" x2="397.80" y2="296.84" stroke="#6b6b6b" stroke-width="0.6" />
<line x1="396.20" y1="196.00" x2="397.80" y2="196.00" stroke="#6b6b6b" stroke-width="0.6" />
<line x1="398.20" y1="304.40" x2="398.20" y2="305.90" stroke="#6b6b6b" stroke-width="0.6" />
<text x="398.20" y="311.88" font-family='"Liberation Serif", serif' font-size="5.4" font-weight="bold" font-style="normal" text-anchor="middle" fill="#1a1a1a" stroke="#1a1a1a" stroke-width="0.12" >0</text>
<line x1="430.90" y1="304.40" x2="430.90" y2="305.90" stroke="#6b6b6b" stroke-width="0.6" />
<text x="430.90" y="311.88" font-family='"Liberation Serif", serif' font-size="5.4" font-weight="bold" font-style="normal" text-anchor="middle" fill="#1a1a1a" stroke="#1a1a1a" stroke-width="0.12" >2</text>
<line x1="463.60" y1="304.40" x2="463.60" y2="305.90" stroke="#6b6b6b" stroke-width="0.6" />
<text x="463.60" y="311.88" font-family='"Liberation Serif", serif' font-size="5.4" font-weight="bold" font-style="normal" text-anchor="middle" fill="#1a1a1a" stroke="#1a1a1a" stroke-width="0.12" >4</text>
<line x1="496.30" y1="304.40" x2="496.30" y2="305.90" stroke="#6b6b6b" stroke-width="0.6" />
<text x="496.30" y="311.88" font-family='"Liberation Serif", serif' font-size="5.4" font-weight="bold" font-style="normal" text-anchor="middle" fill="#1a1a1a" stroke="#1a1a1a" stroke-width="0.12" >6</text>
<line x1="529.00" y1="304.40" x2="529.00" y2="305.90" stroke="#6b6b6b" stroke-width="0.6" />
<text x="529.00" y="311.88" font-family='"Liberation Serif", serif' font-size="5.4" font-weight="bold" font-style="normal" text-anchor="middle" fill="#1a1a1a" stroke="#1a1a1a" stroke-width="0.12" >8</text>
<text x="468.70" y="322.01" font-family='"Liberation Serif", serif' font-size="7.6" font-weight="bold" font-style="normal" text-anchor="middle" fill="#1a1a1a" stroke="#1a1a1a" stroke-width="0.25" >Importance</text>
<text x="489.50" y="281.58" font-family='"Liberation Serif", serif' font-size="5.1" font-weight="bold" font-style="normal" text-anchor="start" fill="#1a1a1a" stroke="#1a1a1a" stroke-width="0.08" >taxonomy clade</text>
<circle cx="489.20" cy="286.90" r="3.2" fill="#a8c660"/>
<text x="495.00" y="288.20" font-family='"Liberation Serif", serif' font-size="4.55" font-weight="bold" font-style="normal" text-anchor="start" fill="#1a1a1a" stroke="#1a1a1a" stroke-width="0.2" >p__Basidiomycota</text>
<circle cx="489.20" cy="297.30" r="3.2" fill="#85c5c3"/>
<text x="495.00" y="298.60" font-family='"Liberation Serif", serif' font-size="4.55" font-weight="bold" font-style="normal" text-anchor="start" fill="#1a1a1a" stroke="#1a1a1a" stroke-width="0.2" >p__Ascomycota</text>
</svg></body></html>
